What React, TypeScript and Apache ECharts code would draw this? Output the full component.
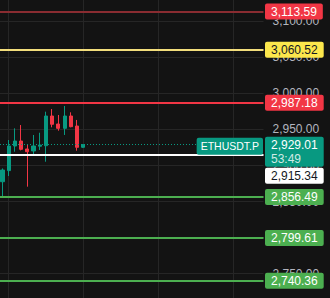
import { useEffect, useRef } from "react";
import * as echarts from "echarts";

// ---- data ----
const opens = [2877.6, 2893.0, 2927.1, 2934.0, 2923.0, 2920.2, 2926.8, 2927.5, 2968.7, 2957.6, 2951.6, 2968.7, 2954.8, 2925.3];
const closes = [2893.8, 2927.1, 2934.0, 2922.5, 2919.2, 2927.1, 2928.5, 2968.7, 2957.2, 2951.6, 2968.7, 2953.9, 2925.3, 2929.0];
const lows = [2855.5, 2885.5, 2919.2, 2921.0, 2870.7, 2915.6, 2921.6, 2905.3, 2953.0, 2948.3, 2942.4, 2953.0, 2920.6, 2924.5];
const highs = [2896.0, 2935.4, 2951.6, 2956.2, 2928.5, 2942.4, 2945.5, 2974.7, 2978.4, 2970.1, 2982.6, 2973.8, 2963.2, 2929.5];

const levels = [3113.59, 3060.52, 2987.18, 2915.34, 2856.49, 2799.61, 2740.36];
const lastPrice = 2929.01;
const symbolName = "ETHUSDT.P";
const countdown = "53:49";

// ---- styles ----
const levelLineColors = ["#8a2c31", "#f3de7c", "#f23645", "#ffffff", "#4caf50", "#4caf50", "#4caf50"];
const levelBoxColors = ["#f23645", "#fce74c", "#f23645", "#ffffff", "#4caf50", "#4caf50", "#4caf50"];
const levelTextColors = ["#ffffff", "#131722", "#ffffff", "#131722", "#ffffff", "#ffffff", "#ffffff"];
const UP = "#089981";
const DOWN = "#f23645";
const BG = "#131313";
const GRID = "#262626";
const FONT = "'Liberation Sans', Arial, sans-serif";

const fmt = (v: number) =>
  v.toLocaleString("en-US", { minimumFractionDigits: 2, maximumFractionDigits: 2 });

export default function App() {
  const ref = useRef<HTMLDivElement>(null);

  useEffect(() => {
    document.body.style.margin = "0";
    document.body.style.background = BG;
    const chart = echarts.init(ref.current!, null, { renderer: "svg" });

    const option: any = {
      animation: false,
      backgroundColor: BG,
      grid: [
        { left: 0, right: 66.5, top: -14.76, bottom: -11.8, outerBoundsMode: "none", containLabel: false },
        { left: 8, right: 66.5, top: 0, bottom: 0, outerBoundsMode: "none", containLabel: false },
      ],
      xAxis: [
        {
          type: "value",
          gridIndex: 0,
          min: -0.4,
          max: 42.03,
          axisLine: { show: false },
          axisTick: { show: false },
          axisLabel: { show: false },
          splitLine: { show: false },
        },
        {
          type: "value",
          gridIndex: 1,
          min: 0,
          max: 255.5,
          interval: 75,
          axisLine: { show: false },
          axisTick: { show: false },
          axisLabel: { show: false },
          splitLine: { show: true, showMaxLine: false, lineStyle: { color: GRID, width: 1 } },
        },
      ],
      yAxis: [
        {
          type: "value",
          gridIndex: 0,
          position: "right",
          min: 2700,
          max: 3150,
          interval: 50,
          axisLine: { show: false },
          axisTick: { show: false },
          axisLabel: {
            color: "#b2b5be",
            fontSize: 12,
            fontFamily: FONT,
            margin: 9,
            showMinLabel: false,
            showMaxLabel: false,
            formatter: (v: number) => fmt(v),
          },
          splitLine: { show: true, lineStyle: { color: GRID, width: 1 } },
        },
        {
          type: "value",
          gridIndex: 1,
          min: 0,
          max: 1,
          show: false,
          splitLine: { show: false },
        },
      ],
      series: [
        {
          type: "candlestick",
          xAxisIndex: 0,
          yAxisIndex: 0,
          data: opens.map((o, i) => [i, o, closes[i], lows[i], highs[i]]),
          encode: { x: 0, y: [1, 2, 3, 4] },
          barWidth: 3.6,
          silent: true,
          itemStyle: {
            color: UP,
            color0: DOWN,
            borderColor: UP,
            borderColor0: DOWN,
            borderWidth: 1,
          },
          markLine: {
            silent: true,
            symbol: ["none", "none"],
            label: { show: false },
            data: [
              {
                yAxis: lastPrice,
                lineStyle: { color: UP, width: 1, type: [1, 2] },
              },
              ...levels.map((v, i) => ({
                yAxis: v,
                lineStyle: { color: levelLineColors[i], width: 2, type: "solid" },
              })),
            ],
          },
        },
      ],
    };
    chart.setOption(option);

    const py = (v: number) => chart.convertToPixel({ yAxisIndex: 0 }, v) as number;
    const boxX = 265;
    const lineH = 14;
    const pad = [1, 6, 1, 6];

    const lastY = py(lastPrice);
    const lastTop = lastY - (pad[0] + lineH / 2);
    const lastBottom = lastTop + pad[0] + lineH * 2 + pad[2];

    const elements: any[] = [];
    levels.forEach((v, i) => {
      const y = py(v);
      const top = y - lineH / 2 - pad[0];
      const bottom = y + lineH / 2 + pad[2];
      const overlaps = bottom > lastTop && top < lastBottom;
      elements.push({
        type: "text",
        x: boxX,
        y: overlaps ? lastBottom + 1 : y,
        z: 100,
        silent: true,
        style: {
          text: fmt(v),
          fill: levelTextColors[i],
          backgroundColor: levelBoxColors[i],
          padding: pad,
          borderRadius: 2,
          lineHeight: lineH,
          fontSize: 12,
          fontFamily: FONT,
          align: "left",
          verticalAlign: overlaps ? "top" : "middle",
        },
      });
    });
    elements.push({
      type: "text",
      x: boxX,
      y: lastTop,
      z: 101,
      silent: true,
      style: {
        text: `{p|${fmt(lastPrice)}}\n{t|${countdown}}`,
        rich: {
          p: { fill: "#ffffff", fontSize: 12, lineHeight: lineH, fontFamily: FONT },
          t: { fill: "rgba(255,255,255,0.82)", fontSize: 12, lineHeight: lineH, fontFamily: FONT },
        },
        backgroundColor: UP,
        padding: pad,
        borderRadius: 2,
        align: "left",
        verticalAlign: "top",
      },
    });
    elements.push({
      type: "text",
      x: 263,
      y: lastY + 1.5,
      z: 101,
      silent: true,
      style: {
        text: symbolName,
        fill: "#ffffff",
        backgroundColor: UP,
        padding: [2, 4, 2, 4],
        borderRadius: 2,
        lineHeight: 13,
        fontSize: 10.5,
        fontFamily: FONT,
        align: "right",
        verticalAlign: "middle",
      },
    });
    chart.setOption({ graphic: elements });

    return () => chart.dispose();
  }, []);

  return <div ref={ref} style={{ width: 330, height: 298 }} />;
}
